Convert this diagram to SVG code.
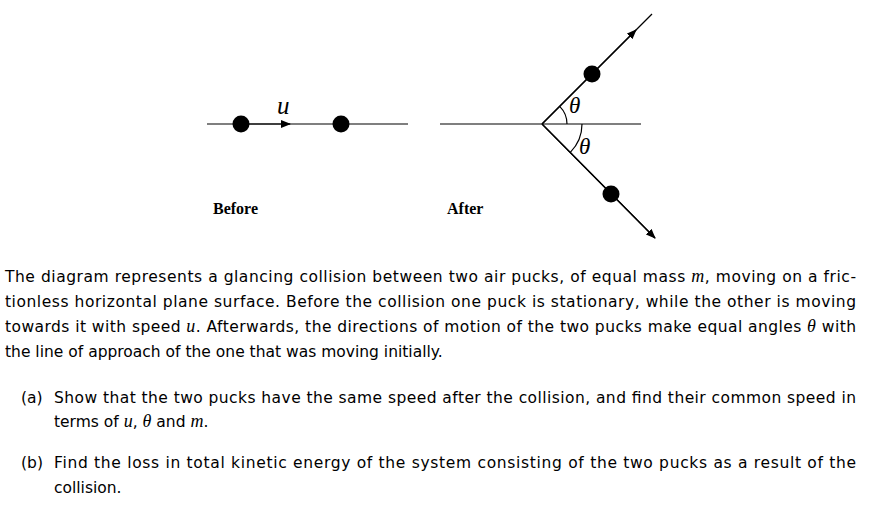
<svg xmlns="http://www.w3.org/2000/svg" width="874" height="510" viewBox="0 0 874 510">
<style>
.l{stroke:#000;stroke-width:1.2;fill:none}
.d{fill:#000}
.t{font-family:"DejaVu Sans","Liberation Sans",sans-serif;font-size:15.5px;fill:#000}
.m{font-family:"Liberation Serif",serif;font-style:italic}
.t .m{font-size:18px}
.lb{font-family:"Liberation Serif",serif;font-weight:bold;font-size:16px}
</style>
<defs><marker id="a" markerWidth="10" markerHeight="8" refX="9" refY="4" orient="auto" markerUnits="userSpaceOnUse"><path d="M0,0L10,4L0,8z" fill="#000"/></marker></defs>
<g id="connectors">
<line class="l" x1="207" y1="124" x2="408" y2="124"/>
<line class="l" x1="241" y1="124" x2="290" y2="124" marker-end="url(#a)"/>
<line class="l" x1="440" y1="124" x2="641" y2="124"/>
<line class="l" x1="542" y1="124" x2="652" y2="14"/>
<line class="l" x1="542" y1="124" x2="636" y2="30" marker-end="url(#a)"/>
<line class="l" x1="542" y1="124" x2="655" y2="238"/>
<line class="l" x1="542" y1="124" x2="655" y2="238" marker-end="url(#a)"/>
<path class="l" d="M559.7,106.3A25,25 0 0 1 567,124"/>
<path class="l" d="M582,124A40,40 0 0 1 570.3,152.3"/>
</g>
<g id="puck1"><circle class="d" cx="241" cy="124" r="8.5"/></g>
<g id="puck2"><circle class="d" cx="341" cy="124" r="8.5"/></g>
<g id="puck3"><circle class="d" cx="592" cy="74" r="8.5"/></g>
<g id="puck4"><circle class="d" cx="611" cy="194" r="8.5"/></g>
<text class="m" x="277" y="114" style="font-size:25px">u</text>
<text class="m" x="569" y="113" style="font-size:23px">θ</text>
<text class="m" x="579" y="154" style="font-size:23px">θ</text>
<text class="lb" x="213" y="214">Before</text>
<text class="lb" x="447" y="214">After</text>
<g class="t">
<text x="5" y="282" textLength="851" lengthAdjust="spacing">The diagram represents a glancing collision between two air pucks, of equal mass <tspan class="m">m</tspan>, moving on a fric-</text>
<text x="5" y="307" textLength="851" lengthAdjust="spacing">tionless horizontal plane surface. Before the collision one puck is stationary, while the other is moving</text>
<text x="5" y="332" textLength="851" lengthAdjust="spacing">towards it with speed <tspan class="m">u</tspan>. Afterwards, the directions of motion of the two pucks make equal angles <tspan class="m">θ</tspan> with</text>
<text x="5" y="357">the line of approach of the one that was moving initially.</text>
<text x="21" y="403">(a)</text>
<text x="54" y="403" textLength="802" lengthAdjust="spacing">Show that the two pucks have the same speed after the collision, and find their common speed in</text>
<text x="54" y="427">terms of <tspan class="m">u</tspan>, <tspan class="m">θ</tspan> and <tspan class="m">m</tspan>.</text>
<text x="21" y="468">(b)</text>
<text x="54" y="468" textLength="802" lengthAdjust="spacing">Find the loss in total kinetic energy of the system consisting of the two pucks as a result of the</text>
<text x="54" y="493">collision.</text>
</g>
</svg>
